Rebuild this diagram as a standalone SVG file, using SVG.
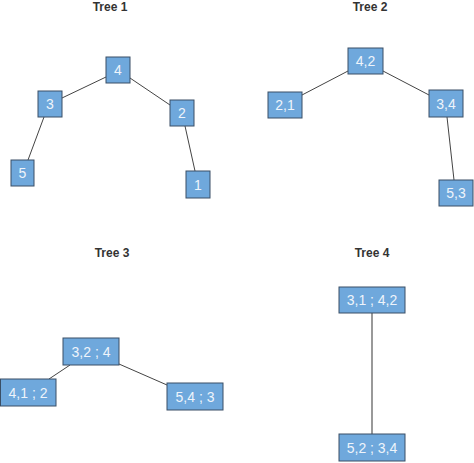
<svg xmlns="http://www.w3.org/2000/svg" width="474" height="463" viewBox="0 0 474 463">
<style>
.title{font-family:"Liberation Sans",Arial,sans-serif;font-size:12px;font-weight:bold;fill:#333;text-anchor:middle}
.node rect{fill:#6fa8dc;stroke:#3a4f66;stroke-width:1}
.node text{font-family:"Liberation Sans",Arial,sans-serif;font-size:14px;fill:#eef4fb;text-anchor:middle;dominant-baseline:central}
.edge{stroke:#444;stroke-width:1;fill:none}
</style>
<rect width="474" height="463" fill="#fff"/>
<text class="title" x="110" y="11">Tree 1</text>
<text class="title" x="370" y="11">Tree 2</text>
<text class="title" x="112" y="257">Tree 3</text>
<text class="title" x="372" y="257">Tree 4</text>
<g id="connectors">
<line class="edge" x1="106" y1="77" x2="62" y2="98"/>
<line class="edge" x1="130" y1="78" x2="170" y2="105"/>
<line class="edge" x1="44" y1="117" x2="28" y2="160"/>
<line class="edge" x1="185" y1="126" x2="195" y2="171"/>
<line class="edge" x1="348" y1="71" x2="302" y2="95"/>
<line class="edge" x1="383" y1="71" x2="429" y2="95"/>
<line class="edge" x1="447" y1="117" x2="454" y2="180"/>
<line class="edge" x1="70" y1="365" x2="49" y2="379"/>
<line class="edge" x1="119" y1="364" x2="167" y2="385"/>
<line class="edge" x1="372" y1="313" x2="372" y2="434" style="stroke:#777;stroke-width:1.5"/>
</g>
<g id="t1n4" class="node"><rect x="106" y="57" width="24" height="26"/><text x="118" y="70">4</text></g>
<g id="t1n3" class="node"><rect x="38" y="91" width="24" height="26"/><text x="50" y="104">3</text></g>
<g id="t1n2" class="node"><rect x="170" y="100" width="24" height="26"/><text x="182" y="113">2</text></g>
<g id="t1n5" class="node"><rect x="11" y="160" width="23" height="26"/><text x="22.5" y="173">5</text></g>
<g id="t1n1" class="node"><rect x="186" y="171" width="24" height="27"/><text x="198" y="184.5">1</text></g>
<g id="t2n42" class="node"><rect x="348" y="48" width="35" height="26"/><text x="365.5" y="61">4,2</text></g>
<g id="t2n21" class="node"><rect x="268" y="92" width="34" height="26"/><text x="285" y="105">2,1</text></g>
<g id="t2n34" class="node"><rect x="429" y="90" width="34" height="27"/><text x="446" y="103.5">3,4</text></g>
<g id="t2n53" class="node"><rect x="439" y="180" width="34" height="26"/><text x="456" y="193">5,3</text></g>
<g id="t3n324" class="node"><rect x="63" y="338" width="56" height="27"/><text x="91" y="351.5">3,2 ; 4</text></g>
<g id="t3n412" class="node"><rect x="0.5" y="379" width="55.5" height="27"/><text x="28" y="392.5">4,1 ; 2</text></g>
<g id="t3n543" class="node"><rect x="167" y="383" width="56" height="27"/><text x="195" y="396.5">5,4 ; 3</text></g>
<g id="t4n3142" class="node"><rect x="339" y="287" width="66" height="26"/><text x="372" y="300">3,1 ; 4,2</text></g>
<g id="t4n5234" class="node"><rect x="339" y="434" width="66" height="27"/><text x="372" y="447.5">5,2 ; 3,4</text></g>
</svg>
